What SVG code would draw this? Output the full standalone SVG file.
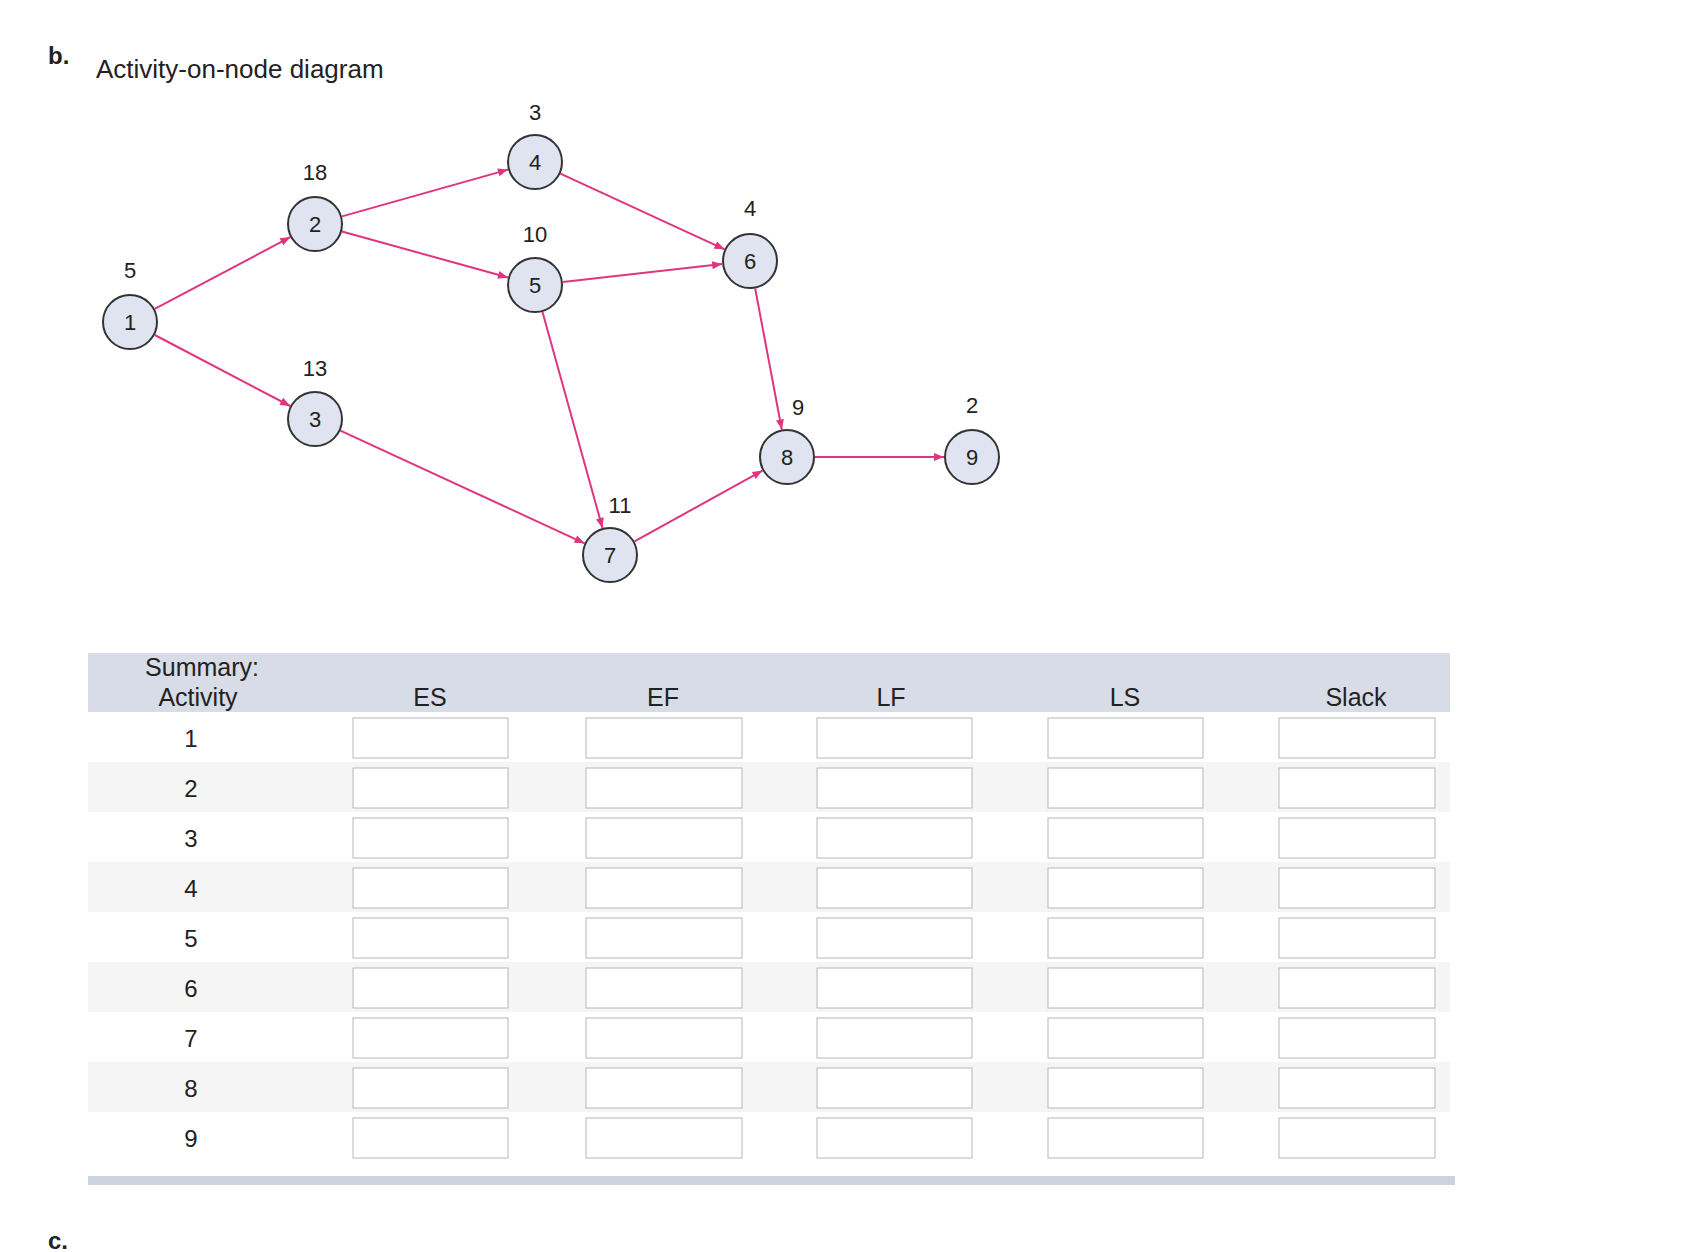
<svg xmlns="http://www.w3.org/2000/svg" width="1694" height="1252" viewBox="0 0 1694 1252">
<style>
text{font-family:"Liberation Sans",Arial,sans-serif;fill:#222}
.n circle{fill:#dfe4f0;stroke:#333;stroke-width:2}
.n text{font-size:22px;text-anchor:middle}
.lbl{font-size:22px;text-anchor:middle}
.e line{stroke:#e0357e;stroke-width:2;marker-end:url(#ah)}
.box{fill:#fff;stroke:#b8b8b8;stroke-width:1}
.h{font-size:25px;text-anchor:middle}
.rn{font-size:24px;text-anchor:middle}
</style>
<defs><marker id="ah" viewBox="0 0 10 10" refX="10" refY="5" markerWidth="14" markerHeight="10" orient="auto" markerUnits="userSpaceOnUse"><path d="M0,1 L10,5 L0,9 Z" fill="#e0357e"/></marker></defs>
<rect width="1694" height="1252" fill="#fff"/>
<text x="48" y="64" style="font-size:24px;font-weight:bold">b.</text>
<text x="96" y="78" style="font-size:26px">Activity-on-node diagram</text>
<g class="e" id="connectors">
<line x1="154.7" y1="308.9" x2="290.3" y2="237.1"/>
<line x1="154.8" y1="335" x2="290.2" y2="406"/>
<line x1="342" y1="216.4" x2="508" y2="169.6"/>
<line x1="342" y1="231.5" x2="508" y2="277.5"/>
<line x1="340.4" y1="430.7" x2="584.6" y2="543.3"/>
<line x1="560.4" y1="173.7" x2="724.6" y2="249.3"/>
<line x1="562.8" y1="281.9" x2="722.2" y2="264.1"/>
<line x1="542.5" y1="312" x2="602.5" y2="528"/>
<line x1="755.2" y1="288.5" x2="781.8" y2="429.5"/>
<line x1="634.5" y1="541.4" x2="762.5" y2="470.6"/>
<line x1="815" y1="457" x2="944" y2="457"/>
</g>
<g class="n" id="node1"><circle cx="130" cy="322" r="27"/><text x="130" y="330">1</text><text class="lbl" x="130" y="278">5</text></g>
<g class="n" id="node2"><circle cx="315" cy="224" r="27"/><text x="315" y="232">2</text><text class="lbl" x="315" y="180">18</text></g>
<g class="n" id="node3"><circle cx="315" cy="419" r="27"/><text x="315" y="427">3</text><text class="lbl" x="315" y="376">13</text></g>
<g class="n" id="node4"><circle cx="535" cy="162" r="27"/><text x="535" y="170">4</text><text class="lbl" x="535" y="120">3</text></g>
<g class="n" id="node5"><circle cx="535" cy="285" r="27"/><text x="535" y="293">5</text><text class="lbl" x="535" y="242">10</text></g>
<g class="n" id="node6"><circle cx="750" cy="261" r="27"/><text x="750" y="269">6</text><text class="lbl" x="750" y="216">4</text></g>
<g class="n" id="node7"><circle cx="610" cy="555" r="27"/><text x="610" y="563">7</text><text class="lbl" x="620" y="513">11</text></g>
<g class="n" id="node8"><circle cx="787" cy="457" r="27"/><text x="787" y="465">8</text><text class="lbl" x="798" y="415">9</text></g>
<g class="n" id="node9"><circle cx="972" cy="457" r="27"/><text x="972" y="465">9</text><text class="lbl" x="972" y="413">2</text></g>
<g id="table">
<rect x="88" y="653" width="1362" height="59" fill="#d7dce7"/>
<rect x="88" y="762" width="1362" height="50" fill="#f5f5f5"/>
<rect x="88" y="862" width="1362" height="50" fill="#f5f5f5"/>
<rect x="88" y="962" width="1362" height="50" fill="#f5f5f5"/>
<rect x="88" y="1062" width="1362" height="50" fill="#f5f5f5"/>
<rect x="88" y="1176" width="1367" height="9" fill="#ccd3de"/>
<text class="h" x="202" y="676">Summary:</text>
<text class="h" x="198" y="706">Activity</text>
<text class="h" x="430" y="706">ES</text>
<text class="h" x="663" y="706">EF</text>
<text class="h" x="891" y="706">LF</text>
<text class="h" x="1125" y="706">LS</text>
<text class="h" x="1356" y="706">Slack</text>
<g id="rows">
<text class="rn" x="191" y="747">1</text><text class="rn" x="191" y="797">2</text><text class="rn" x="191" y="847">3</text><text class="rn" x="191" y="897">4</text><text class="rn" x="191" y="947">5</text><text class="rn" x="191" y="997">6</text><text class="rn" x="191" y="1047">7</text><text class="rn" x="191" y="1097">8</text><text class="rn" x="191" y="1147">9</text>
</g>
<g id="boxes">
<g transform="translate(0,0)"><rect class="box" x="353" y="718" width="155" height="40"/><rect class="box" x="586" y="718" width="156" height="40"/><rect class="box" x="817" y="718" width="155" height="40"/><rect class="box" x="1048" y="718" width="155" height="40"/><rect class="box" x="1279" y="718" width="156" height="40"/></g>
<g transform="translate(0,50)"><rect class="box" x="353" y="718" width="155" height="40"/><rect class="box" x="586" y="718" width="156" height="40"/><rect class="box" x="817" y="718" width="155" height="40"/><rect class="box" x="1048" y="718" width="155" height="40"/><rect class="box" x="1279" y="718" width="156" height="40"/></g>
<g transform="translate(0,100)"><rect class="box" x="353" y="718" width="155" height="40"/><rect class="box" x="586" y="718" width="156" height="40"/><rect class="box" x="817" y="718" width="155" height="40"/><rect class="box" x="1048" y="718" width="155" height="40"/><rect class="box" x="1279" y="718" width="156" height="40"/></g>
<g transform="translate(0,150)"><rect class="box" x="353" y="718" width="155" height="40"/><rect class="box" x="586" y="718" width="156" height="40"/><rect class="box" x="817" y="718" width="155" height="40"/><rect class="box" x="1048" y="718" width="155" height="40"/><rect class="box" x="1279" y="718" width="156" height="40"/></g>
<g transform="translate(0,200)"><rect class="box" x="353" y="718" width="155" height="40"/><rect class="box" x="586" y="718" width="156" height="40"/><rect class="box" x="817" y="718" width="155" height="40"/><rect class="box" x="1048" y="718" width="155" height="40"/><rect class="box" x="1279" y="718" width="156" height="40"/></g>
<g transform="translate(0,250)"><rect class="box" x="353" y="718" width="155" height="40"/><rect class="box" x="586" y="718" width="156" height="40"/><rect class="box" x="817" y="718" width="155" height="40"/><rect class="box" x="1048" y="718" width="155" height="40"/><rect class="box" x="1279" y="718" width="156" height="40"/></g>
<g transform="translate(0,300)"><rect class="box" x="353" y="718" width="155" height="40"/><rect class="box" x="586" y="718" width="156" height="40"/><rect class="box" x="817" y="718" width="155" height="40"/><rect class="box" x="1048" y="718" width="155" height="40"/><rect class="box" x="1279" y="718" width="156" height="40"/></g>
<g transform="translate(0,350)"><rect class="box" x="353" y="718" width="155" height="40"/><rect class="box" x="586" y="718" width="156" height="40"/><rect class="box" x="817" y="718" width="155" height="40"/><rect class="box" x="1048" y="718" width="155" height="40"/><rect class="box" x="1279" y="718" width="156" height="40"/></g>
<g transform="translate(0,400)"><rect class="box" x="353" y="718" width="155" height="40"/><rect class="box" x="586" y="718" width="156" height="40"/><rect class="box" x="817" y="718" width="155" height="40"/><rect class="box" x="1048" y="718" width="155" height="40"/><rect class="box" x="1279" y="718" width="156" height="40"/></g>
</g>
</g>
<text x="48" y="1249" style="font-size:24px;font-weight:bold">c.</text>
</svg>
